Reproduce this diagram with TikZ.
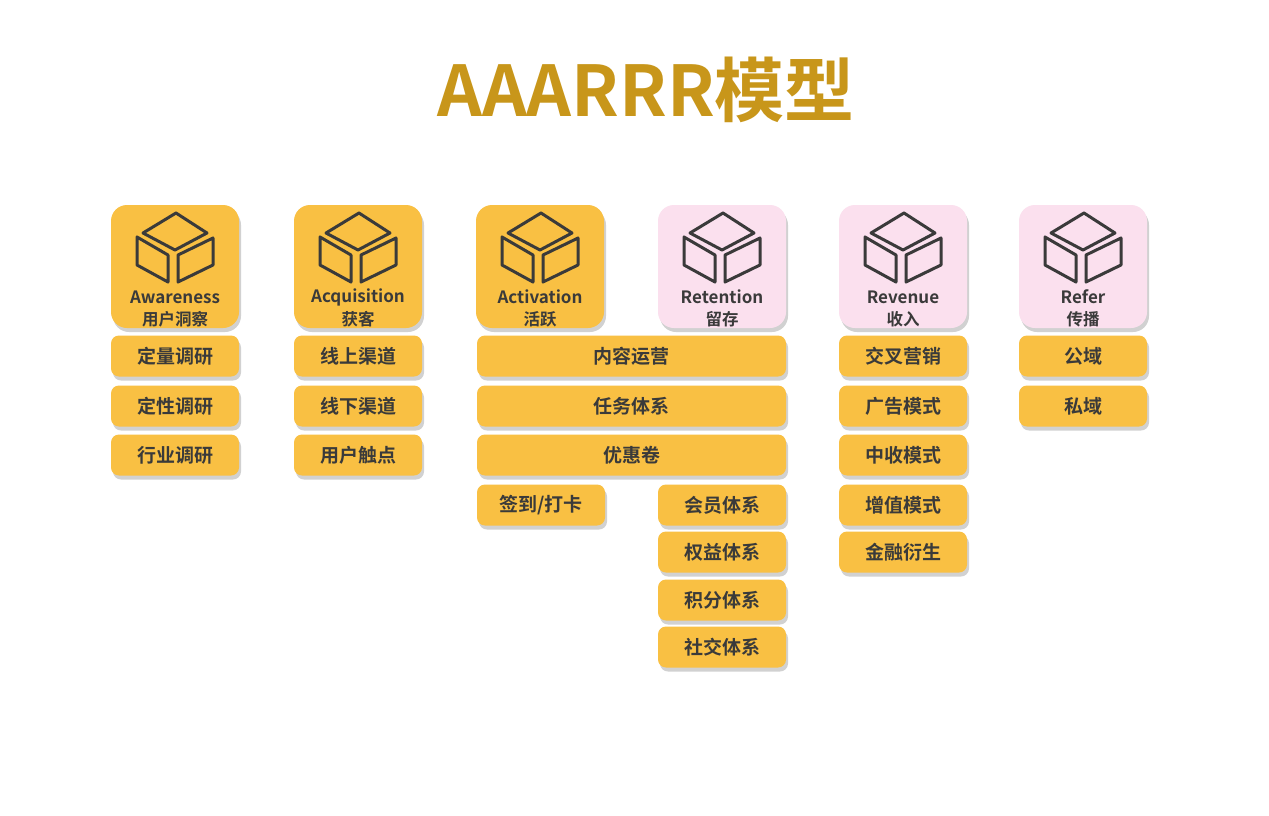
\documentclass[tikz,border=0pt]{standalone}
\usepackage{fontspec}
\setmainfont{Noto Sans CJK SC}
\newfontfamily\cjkb{Noto Sans CJK SC Bold}
\usetikzlibrary{shadows}
\definecolor{yel}{HTML}{F9C043}
\definecolor{pk}{HTML}{FBE0EE}
\definecolor{ttl}{HTML}{C8961A}
\definecolor{ink}{HTML}{3A3A3A}
\tikzset{
 sh/.style={drop shadow={shadow xshift=2pt,shadow yshift=-4pt,opacity=0.18,fill=black}},
 head/.style={sh,rounded corners=16pt,minimum width=128pt,minimum height=123pt,inner sep=0pt},
 item/.style={sh,fill=yel,rounded corners=8pt,minimum height=41pt,inner sep=0pt,font=\cjkb\fontsize{19}{19}\selectfont,text=ink},
 sm/.style={item,minimum width=128pt},
 wide/.style={item,minimum width=309pt},
 cube/.style={draw=ink,line width=3pt,line join=round}
}
\newcommand{\hd}[5]{%
 \node[head,fill=#2] (#1) at (#3,266.5) {};
 \draw[cube] (#3+1,213) -- (#3-32,233) -- (#3,250) -- (#3+32,233) -- cycle;
 \draw[cube] (#3-38,237) -- (#3-38,265) -- (#3-7,282) -- (#3-7,255) -- cycle;
 \draw[cube] (#3+3,255) -- (#3+3,282) -- (#3+38,265) -- (#3+38,238) -- cycle;
 \node[font=\cjkb\fontsize{17}{17}\selectfont,text=ink] (#1t) at (#3,297) {#4};
 \node[font=\cjkb\fontsize{16.5}{16.5}\selectfont,text=ink] (#1c) at (#3,319) {#5};
}
\begin{document}
\begin{tikzpicture}[x=1pt,y=-1pt]
\useasboundingbox[fill=white] (0,0) rectangle (1269,815);
\node[font=\cjkb\fontsize{70}{70}\selectfont,text=ttl] (title) at (646,90) {AAARRR模型};
\hd{a}{yel}{175}{Awareness}{用户洞察}
\hd{b}{yel}{358}{Acquisition}{获客}
\hd{c}{yel}{540}{Activation}{活跃}
\hd{d}{pk}{722}{Retention}{留存}
\hd{e}{pk}{903}{Revenue}{收入}
\hd{f}{pk}{1083}{Refer}{传播}
\node[sm] (a1) at (175,356) {定量调研};
\node[sm] (a2) at (175,406) {定性调研};
\node[sm] (a3) at (175,455) {行业调研};
\node[sm] (b1) at (358,356) {线上渠道};
\node[sm] (b2) at (358,406) {线下渠道};
\node[sm] (b3) at (358,455) {用户触点};
\node[wide] (c1) at (631.5,356) {内容运营};
\node[wide] (c2) at (631.5,406) {任务体系};
\node[wide] (c3) at (631.5,455) {优惠卷};
\node[sm] (c4) at (541,505) {签到/打卡};
\node[sm] (d1) at (722,505) {会员体系};
\node[sm] (d2) at (722,552) {权益体系};
\node[sm] (d3) at (722,600) {积分体系};
\node[sm] (d4) at (722,647) {社交体系};
\node[sm] (e1) at (903,356) {交叉营销};
\node[sm] (e2) at (903,406) {广告模式};
\node[sm] (e3) at (903,455) {中收模式};
\node[sm] (e4) at (903,505) {增值模式};
\node[sm] (e5) at (903,552) {金融衍生};
\node[sm] (f1) at (1083,356) {公域};
\node[sm] (f2) at (1083,406) {私域};
\end{tikzpicture}
\end{document}
